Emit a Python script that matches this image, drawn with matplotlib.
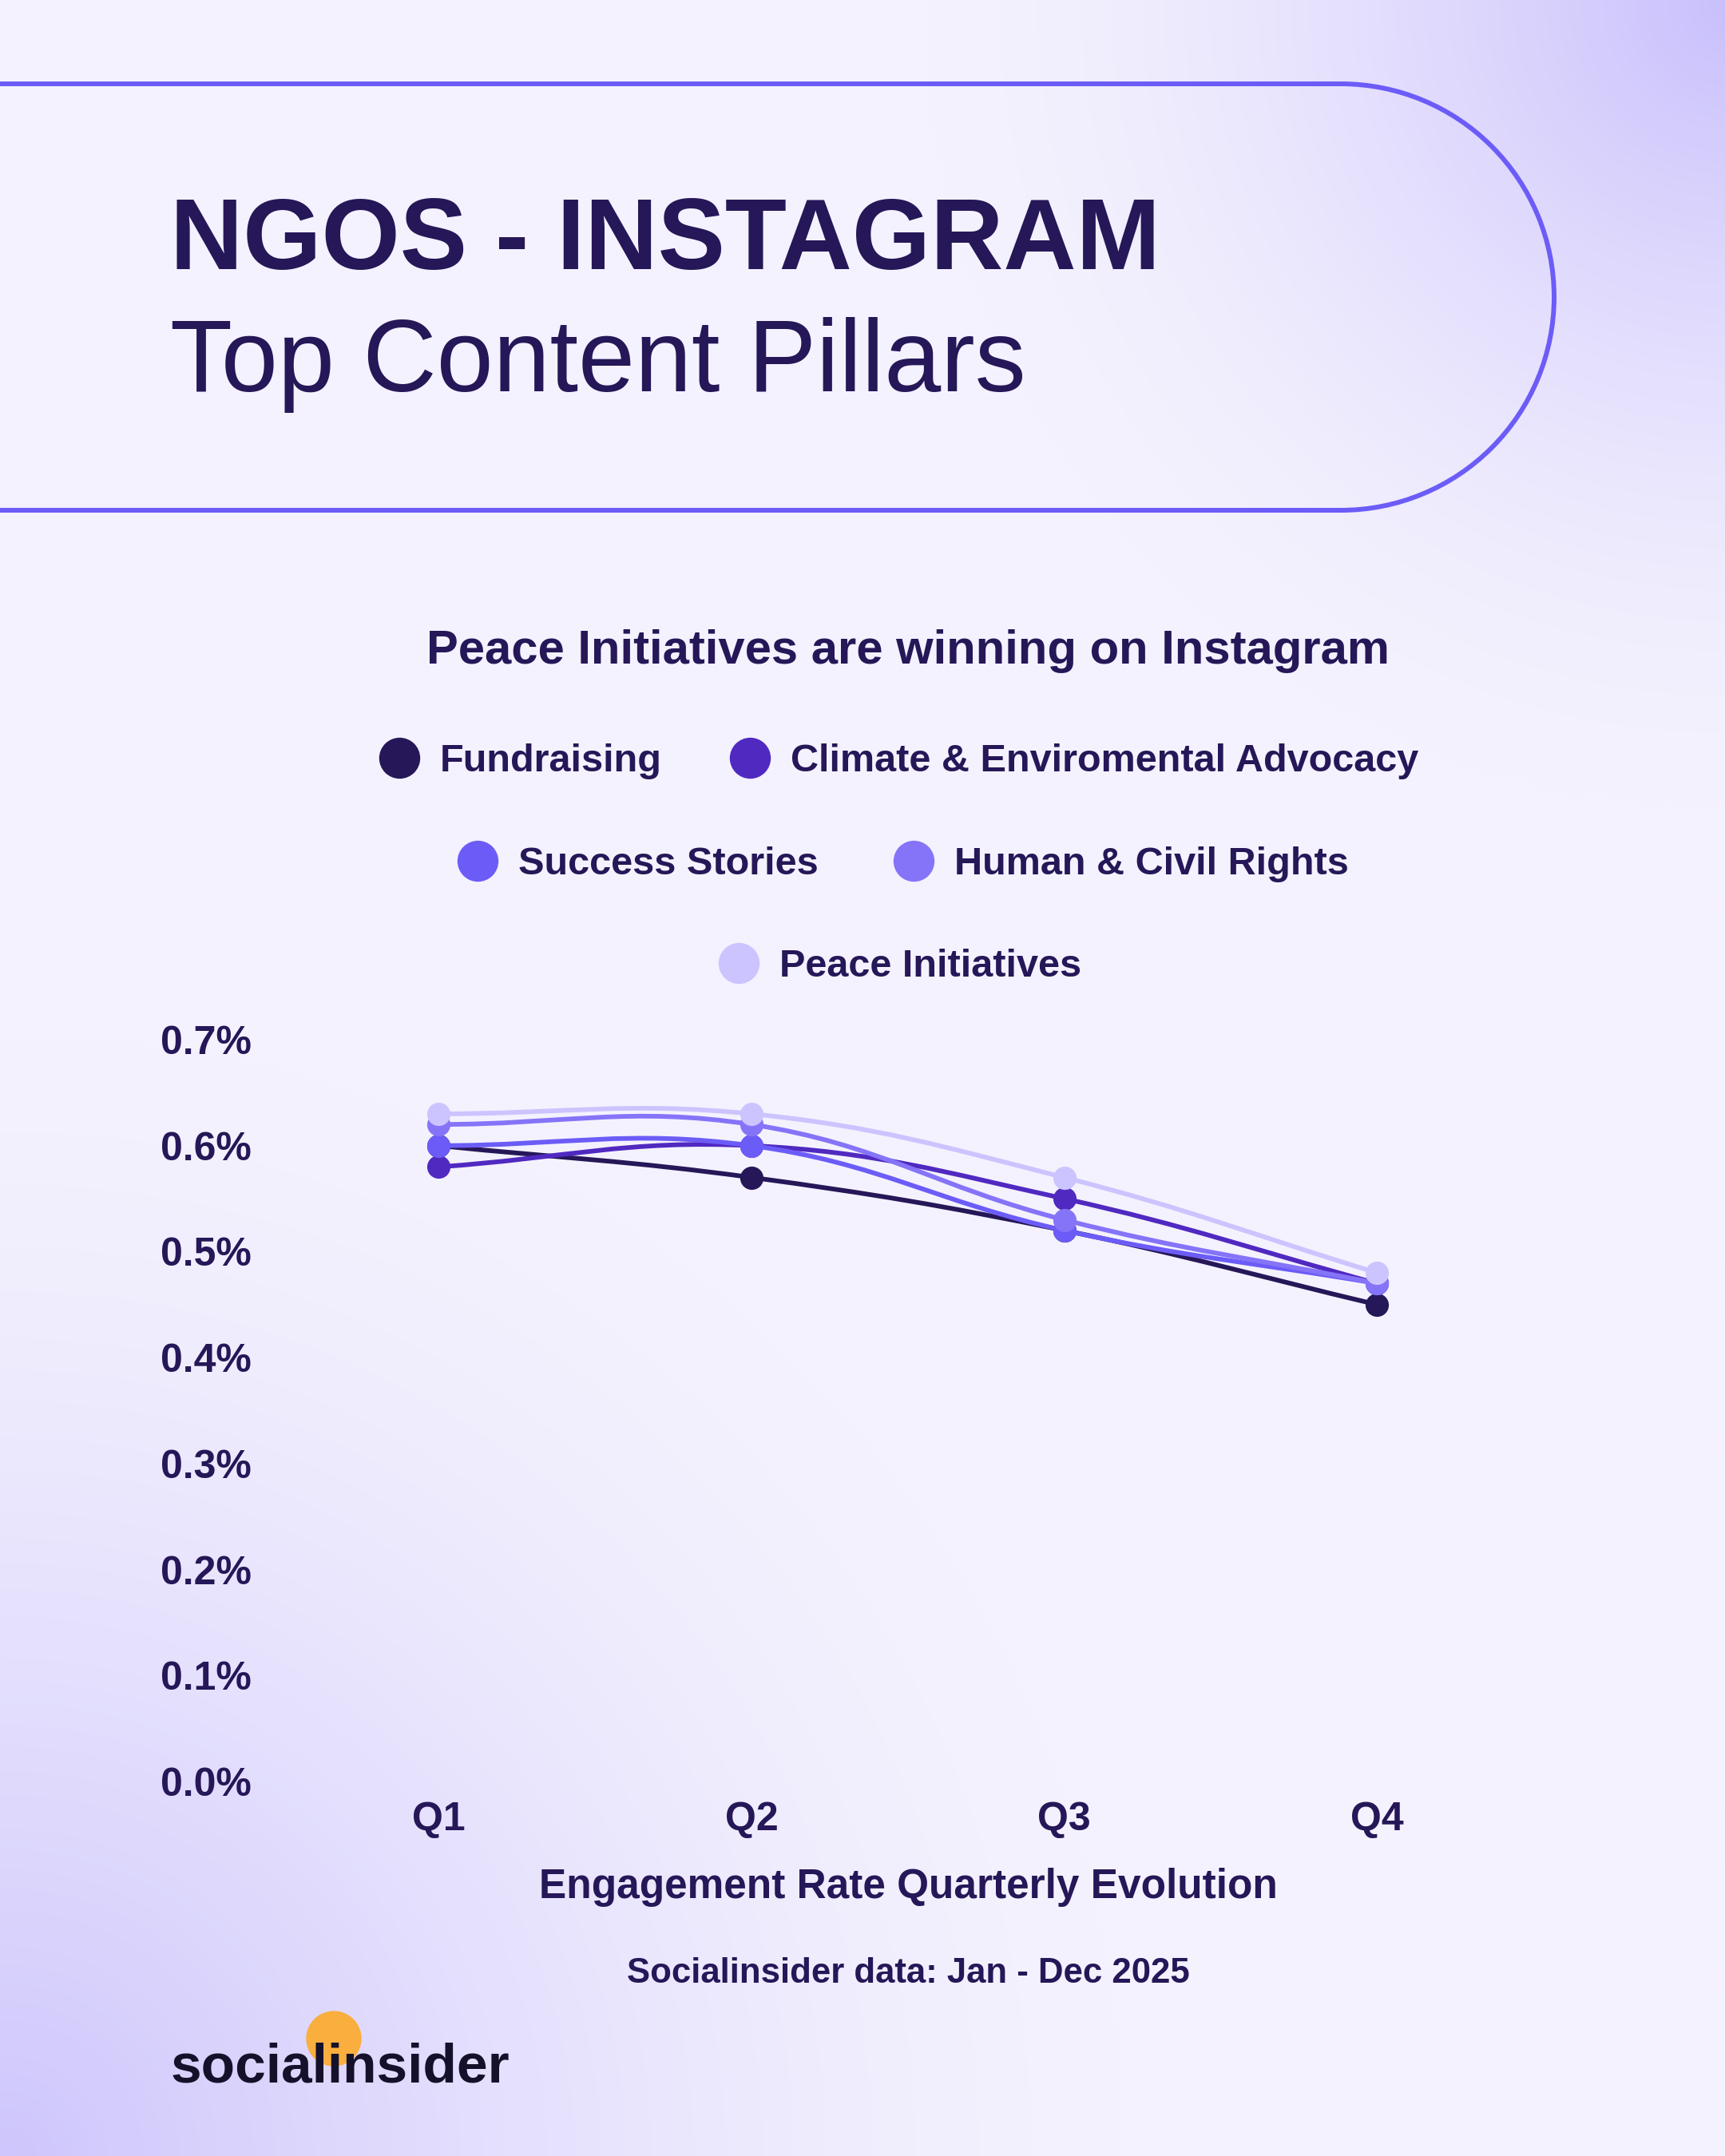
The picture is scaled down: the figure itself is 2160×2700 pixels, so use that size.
import numpy as np
import matplotlib
matplotlib.use("Agg")
import matplotlib.pyplot as plt
from matplotlib.path import Path
from matplotlib.patches import PathPatch, Arc, Circle

# data
quarters = ["Q1", "Q2", "Q3", "Q4"]
series_names = ["Fundraising", "Climate & Enviromental Advocacy", "Success Stories",
                "Human & Civil Rights", "Peace Initiatives"]
fundraising = [0.60, 0.57, 0.52, 0.45]
climate = [0.58, 0.60, 0.55, 0.47]
success = [0.60, 0.60, 0.52, 0.47]
human_rights = [0.62, 0.62, 0.53, 0.47]
peace = [0.63, 0.63, 0.57, 0.48]
y_ticks = [0.0, 0.1, 0.2, 0.3, 0.4, 0.5, 0.6, 0.7]

series_values = [fundraising, climate, success, human_rights, peace]
colors = ["#261758", "#5029C1", "#6C5CF7", "#8574F8", "#CCC4FF"]
TXT = "#261758"
FONT = "Liberation Sans"

W, H = 2160, 2700
fig = plt.figure(figsize=(W / 100, H / 100), dpi=100)

# background canvas in pixel coordinates
bg = fig.add_axes([0, 0, 1, 1])
bg.set_xlim(0, W)
bg.set_ylim(H, 0)
bg.axis("off")

yy, xx = np.mgrid[0:H:10, 0:W:10]
base = np.array([244, 242, 254]) / 255
c_tr = np.array([201, 192, 252]) / 255
c_bl = np.array([206, 198, 252]) / 255
d1 = np.hypot(xx - W, yy) / 1000
d2 = np.hypot(xx, yy - H) / 1400
w1 = np.clip(1 - d1, 0, 1) ** 1.6
w2 = np.clip(1 - d2, 0, 1) ** 1.5
img = base[None, None, :] * (1 - w1[..., None]) + c_tr * w1[..., None]
img = img * (1 - w2[..., None]) + c_bl * w2[..., None]
bg.imshow(img, extent=[0, W, H, 0], aspect="auto", interpolation="bilinear", zorder=0)

# header outline
hc = "#6C5CF7"
top, bot, xr = 105, 639, 1946
r = (bot - top) / 2
cx = xr - r
bg.plot([-20, cx], [top, top], color=hc, lw=4.3, solid_capstyle="butt", zorder=1)
bg.plot([-20, cx], [bot, bot], color=hc, lw=4.3, solid_capstyle="butt", zorder=1)
bg.add_patch(Arc((cx, (top + bot) / 2), 2 * r, 2 * r, theta1=-90, theta2=90,
                 color=hc, lw=4.3, zorder=1))

bg.text(213, 337, "NGOS - INSTAGRAM", fontsize=91, fontweight="bold",
        family=FONT, color=TXT, va="baseline", ha="left")
bg.text(213, 490, "Top Content Pillars", fontsize=92, family=FONT,
        color=TXT, va="baseline", ha="left")

CX = 1137
bg.text(CX, 831, "Peace Initiatives are winning on Instagram", fontsize=43,
        fontweight="bold", family=FONT, color=TXT, ha="center", va="baseline")

# legend (manual, centered rows)
legend_pos = [(500, 949), (939, 949), (598, 1078), (1144, 1078), (925, 1206)]
for (mx, my), name, col in zip(legend_pos, series_names, colors):
    bg.plot([mx], [my], "o", ms=37, color=col, mec="none", zorder=2)
    bg.text(mx + 51, my + 17, name, fontsize=35, fontweight="bold", family=FONT,
            color=TXT, ha="left", va="baseline")

bg.text(CX, 2377, "Engagement Rate Quarterly Evolution", fontsize=37,
        fontweight="bold", family=FONT, color=TXT, ha="center", va="baseline")
bg.text(CX, 2483, "Socialinsider data: Jan - Dec 2025", fontsize=31.5,
        fontweight="bold", family=FONT, color=TXT, ha="center", va="baseline")

# logo
bg.add_patch(Circle((418, 2553), 34, color="#F9AE3D", zorder=2))
bg.text(214, 2608, "socialinsider", fontsize=50, fontweight="bold", family=FONT,
        color="#15112B", ha="left", va="baseline", zorder=3)

# chart axes
left_px, right_px = 353.7, 1920
top_px, bot_px = 1302, 2231
ax = fig.add_axes([left_px / W, 1 - bot_px / H, (right_px - left_px) / W,
                   (bot_px - top_px) / H])
ax.patch.set_alpha(0)
ax.set_xlim(-0.5, 3.5)
ax.set_ylim(0, 0.7)
for s in ax.spines.values():
    s.set_visible(False)
ax.set_xticks(range(len(quarters)))
ax.set_xticklabels(quarters)
ax.set_yticks(y_ticks)
ax.set_yticklabels([f"{v:.1f}%" for v in y_ticks])
ax.tick_params(length=0, colors=TXT)
ax.tick_params(axis="y", pad=28)
ax.tick_params(axis="x", pad=18)
for lab in ax.get_xticklabels() + ax.get_yticklabels():
    lab.set_fontsize(36)
    lab.set_fontweight("bold")
    lab.set_family(FONT)

# pixel scale of the data, used for the spline tension
sx = (right_px - left_px) / 4
sy = (bot_px - top_px) / 0.7


def spline_path(xs, ys, t=0.4):
    px = np.asarray(xs, float) * sx
    py = np.asarray(ys, float) * sy
    n = len(px)
    prev_cp, next_cp = [], []
    for i in range(n):
        a = max(i - 1, 0)
        b = min(i + 1, n - 1)
        d01 = np.hypot(px[i] - px[a], py[i] - py[a])
        d12 = np.hypot(px[b] - px[i], py[b] - py[i])
        tot = d01 + d12
        s01 = d01 / tot if tot else 0
        s12 = d12 / tot if tot else 0
        fa, fb = t * s01, t * s12
        prev_cp.append((px[i] - fa * (px[b] - px[a]), py[i] - fa * (py[b] - py[a])))
        next_cp.append((px[i] + fb * (px[b] - px[a]), py[i] + fb * (py[b] - py[a])))
    verts = [(px[0], py[0])]
    codes = [Path.MOVETO]
    for i in range(n - 1):
        verts += [next_cp[i], prev_cp[i + 1], (px[i + 1], py[i + 1])]
        codes += [Path.CURVE4] * 3
    verts = [(vx / sx, vy / sy) for vx, vy in verts]
    return Path(verts, codes)


xs = np.arange(len(quarters))
for k, (vals, col) in enumerate(zip(series_values, colors)):
    ax.add_patch(PathPatch(spline_path(xs, vals), fill=False, edgecolor=col,
                           lw=4.2, zorder=3 + k))
    ax.plot(xs, vals, "o", ms=21, color=col, mec="none", zorder=3 + k)

fig.savefig("out.png", dpi=100)
